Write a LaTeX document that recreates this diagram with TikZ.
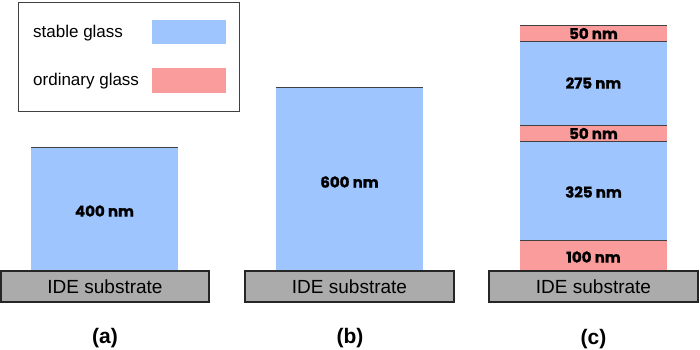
\documentclass[tikz,border=0pt]{standalone}
\usepackage{fontspec}
\setmainfont{Liberation Sans}
\newfontfamily\labfont{Poppins}[BoldFeatures={FakeBold=1.2}]
\definecolor{sg}{HTML}{9FC5FE}
\definecolor{og}{HTML}{FB9C9C}
\definecolor{subs}{HTML}{ABABAB}
\definecolor{edge}{HTML}{404040}
\tikzset{
  x=1pt, y=-1pt,
  layerlab/.style={font=\labfont\bfseries\fontsize{15}{17}\selectfont, inner sep=0pt},
  sublab/.style={font=\fontsize{19}{21}\selectfont, inner sep=0pt},
  panlab/.style={font=\bfseries\fontsize{21}{23}\selectfont, inner sep=0pt},
  leglab/.style={font=\fontsize{17}{19}\selectfont, inner sep=0pt, anchor=west},
  border/.style={draw=edge, line width=1pt},
  substrate/.style={fill=subs, draw=black!85, line width=1.2pt},
}
\begin{document}
\begin{tikzpicture}
\useasboundingbox (0,0) rectangle (700,349);
% legend
\draw[edge, line width=1pt] (18,2) rectangle (239,111);
\node[leglab] (lsg) at (33,33) {stable glass};
\node[leglab] (log) at (33,81) {ordinary glass};
\fill[sg] (152,20) rectangle (226,44);
\fill[og] (152,68) rectangle (226,93);
% panel (a)
\fill[sg] (31,147) rectangle (178,271);
\draw[border] (31,147) -- (178,147);
\node[layerlab] (a400) at (104.5,211) {400 nm};
\draw[substrate] (1,271) rectangle (209,302);
\node[sublab] (sa) at (105,287) {IDE substrate};
\node[panlab] (pa) at (105,338) {(a)};
% panel (b)
\fill[sg] (276,87) rectangle (423,271);
\draw[border] (276,87) -- (423,87);
\node[layerlab] (b600) at (349.5,182) {600 nm};
\draw[substrate] (245,271) rectangle (454,302);
\node[sublab] (sb) at (349.5,287) {IDE substrate};
\node[panlab] (pb) at (350,338) {(b)};
% panel (c)
\fill[og] (520,25) rectangle (667,41);
\fill[sg] (520,41) rectangle (667,125);
\fill[og] (520,125) rectangle (667,141);
\fill[sg] (520,141) rectangle (667,240);
\fill[og] (520,240) rectangle (667,271);
\draw[border] (520,25) -- (667,25);
\draw[border] (520,41) -- (667,41);
\draw[border] (520,125) -- (667,125);
\draw[border] (520,141) -- (667,141);
\draw[border] (520,240) -- (667,240);
\node[layerlab] (c50a) at (593.5,33.5) {50 nm};
\node[layerlab] (c275) at (593.5,83) {275 nm};
\node[layerlab] (c50b) at (593.5,133.5) {50 nm};
\node[layerlab] (c325) at (593.5,192) {325 nm};
\node[layerlab] (c100) at (593.5,257) {100 nm};
\draw[substrate] (489,271) rectangle (698,302);
\node[sublab] (sc) at (593.5,287) {IDE substrate};
\node[panlab] (pc) at (593.5,339) {(c)};
\end{tikzpicture}
\end{document}
